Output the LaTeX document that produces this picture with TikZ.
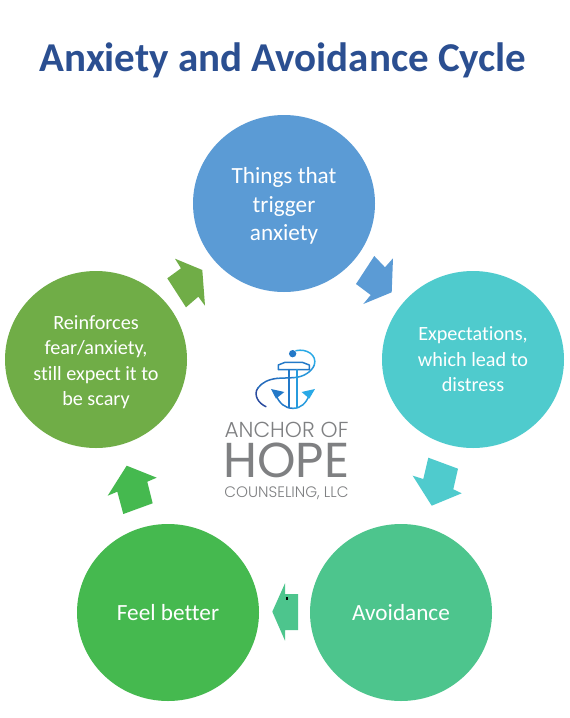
\documentclass[tikz,border=0pt]{standalone}
\usepackage{fontspec}
\setmainfont{Carlito}[Ligatures=NoCommon]
\newfontfamily\logofont{Poppins Light}
\newfontfamily\logobold{Poppins}
\usetikzlibrary{shapes.geometric}
\definecolor{cblue}{HTML}{5B9BD5}
\definecolor{cteal}{HTML}{4FCBCD}
\definecolor{cmint}{HTML}{4DC58D}
\definecolor{cgreen}{HTML}{45B94F}
\definecolor{colive}{HTML}{70AD47}
\definecolor{ctitle}{HTML}{2B4F91}
\definecolor{lgray}{HTML}{7F8082}
\definecolor{ldark}{HTML}{2B4C9F}
\definecolor{lmid}{HTML}{2379C8}
\definecolor{llight}{HTML}{29A9E6}
\tikzset{
 stage/.style={ellipse,minimum width=182pt,minimum height=177pt,inner sep=0pt,text=white,align=center},
 bigtext/.style={font=\fontsize{23.2}{28.5}\selectfont},
 smalltext/.style={font=\fontsize{20.2}{25.5}\selectfont},
 logoline/.style={line width=1.5pt,line join=round,line cap=round},
 logotext/.style={text=lgray,inner sep=0pt,anchor=center}
}
\begin{document}
\begin{tikzpicture}[x=1pt,y=-1pt]
\useasboundingbox (0,0) rectangle (570,718);
\fill[white] (0,0) rectangle (570,718);
\node[text=ctitle,font=\bfseries\fontsize{41}{44}\selectfont] (title) at (283,60) {Anxiety and Avoidance Cycle};
\node[stage,bigtext,fill=cblue] (trigger) at (284,203.5) {};
\node[text=white,align=center,bigtext] (triggertext) at (284,206) {Things that\\trigger\\anxiety};
\node[stage,smalltext,fill=cteal] (expect) at (473,359.5) {Expectations,\\which lead to\\distress};
\node[stage,bigtext,fill=cmint] (avoid) at (401,612.5) {Avoidance};
\node[stage,bigtext,fill=cgreen] (better) at (168,612.5) {Feel better};
\node[stage,smalltext,fill=colive] (reinf) at (96,359.5) {};
\node[text=white,align=center,smalltext] (reinftext) at (96,362) {Reinforces\\fear/anxiety,\\still expect it to\\be scary};
% block arrows
\fill[cblue] (374.3,256)--(385,267.3)--(393,258.3)--(391.7,292.3)--(363.3,304)--(370.7,295)--(356,284)--cycle;
\fill[cteal] (428.3,457.7)--(458,468.7)--(453.3,489.3)--(461.7,493.3)--(431.7,505.7)--(412.7,475.7)--(423.3,479)--cycle;
\fill[cmint] (272.3,611.7)--(285,583.3)--(285,594)--(298,594)--(298,630)--(285,630)--(285,640.7)--cycle;
\fill[black] (285.5,597) rectangle (288.2,599.8);
\fill[cgreen] (126.7,465.7)--(156.7,477.7)--(147.3,481.7)--(152.7,503.3)--(123.3,514)--(117.3,491.7)--(107.7,495.7)--cycle;
\fill[colive] (175,258.7)--(202.3,270)--(205,305.7)--(198.3,296.7)--(186,307.3)--(167.3,278.3)--(181,268.3)--cycle;
% logo mark
\begin{scope}[shift={(190,320)},x=0.3333pt,y=-0.3333pt]
\draw[logoline,ldark] (228,260) .. controls (205,250) and (190,225) .. (203,205);
\draw[logoline,lmid!70!ldark] (203,205) .. controls (215,188) and (235,178) .. (262,175);
\draw[logoline,lmid] (262,175) -- (310,173);
\draw[logoline,llight!60!lmid] (310,173) .. controls (340,172) and (365,155) .. (373,135);
\draw[logoline,llight] (373,135) .. controls (382,105) and (350,85) .. (318,92);
\fill[lmid] (308,101) circle[radius=11];
\draw[logoline,lmid] (265,149)--(265,135)--(285,127)--(337,127)--(358,135)--(358,149)--cycle;
\draw[logoline,lmid] (297,149)--(297,263);
\draw[logoline,llight!70!lmid] (321,149)--(321,263);
\draw[logoline,lmid] (258,225) .. controls (268,250) and (285,265) .. (309,265);
\draw[logoline,llight!70!lmid] (309,265) .. controls (333,265) and (348,250) .. (358,225);
\fill[lmid] (243,207)--(283,216)--(258,236)--cycle;
\fill[llight] (375,207)--(335,216)--(358,236)--cycle;
\end{scope}
% logo text
\node[logotext] (lg1) at (286.5,430) {\resizebox{124pt}{!}{\logofont\fontsize{18}{18}\selectfont ANCHOR OF}};
\node[logotext] (lg2) at (286.5,460) {\resizebox{126pt}{!}{\logobold\fontsize{48}{48}\selectfont HOPE}};
\node[logotext] (lg3) at (286.5,493) {\resizebox{124pt}{!}{\logofont\fontsize{14}{14}\selectfont COUNSELING, LLC}};
\end{tikzpicture}
\end{document}
